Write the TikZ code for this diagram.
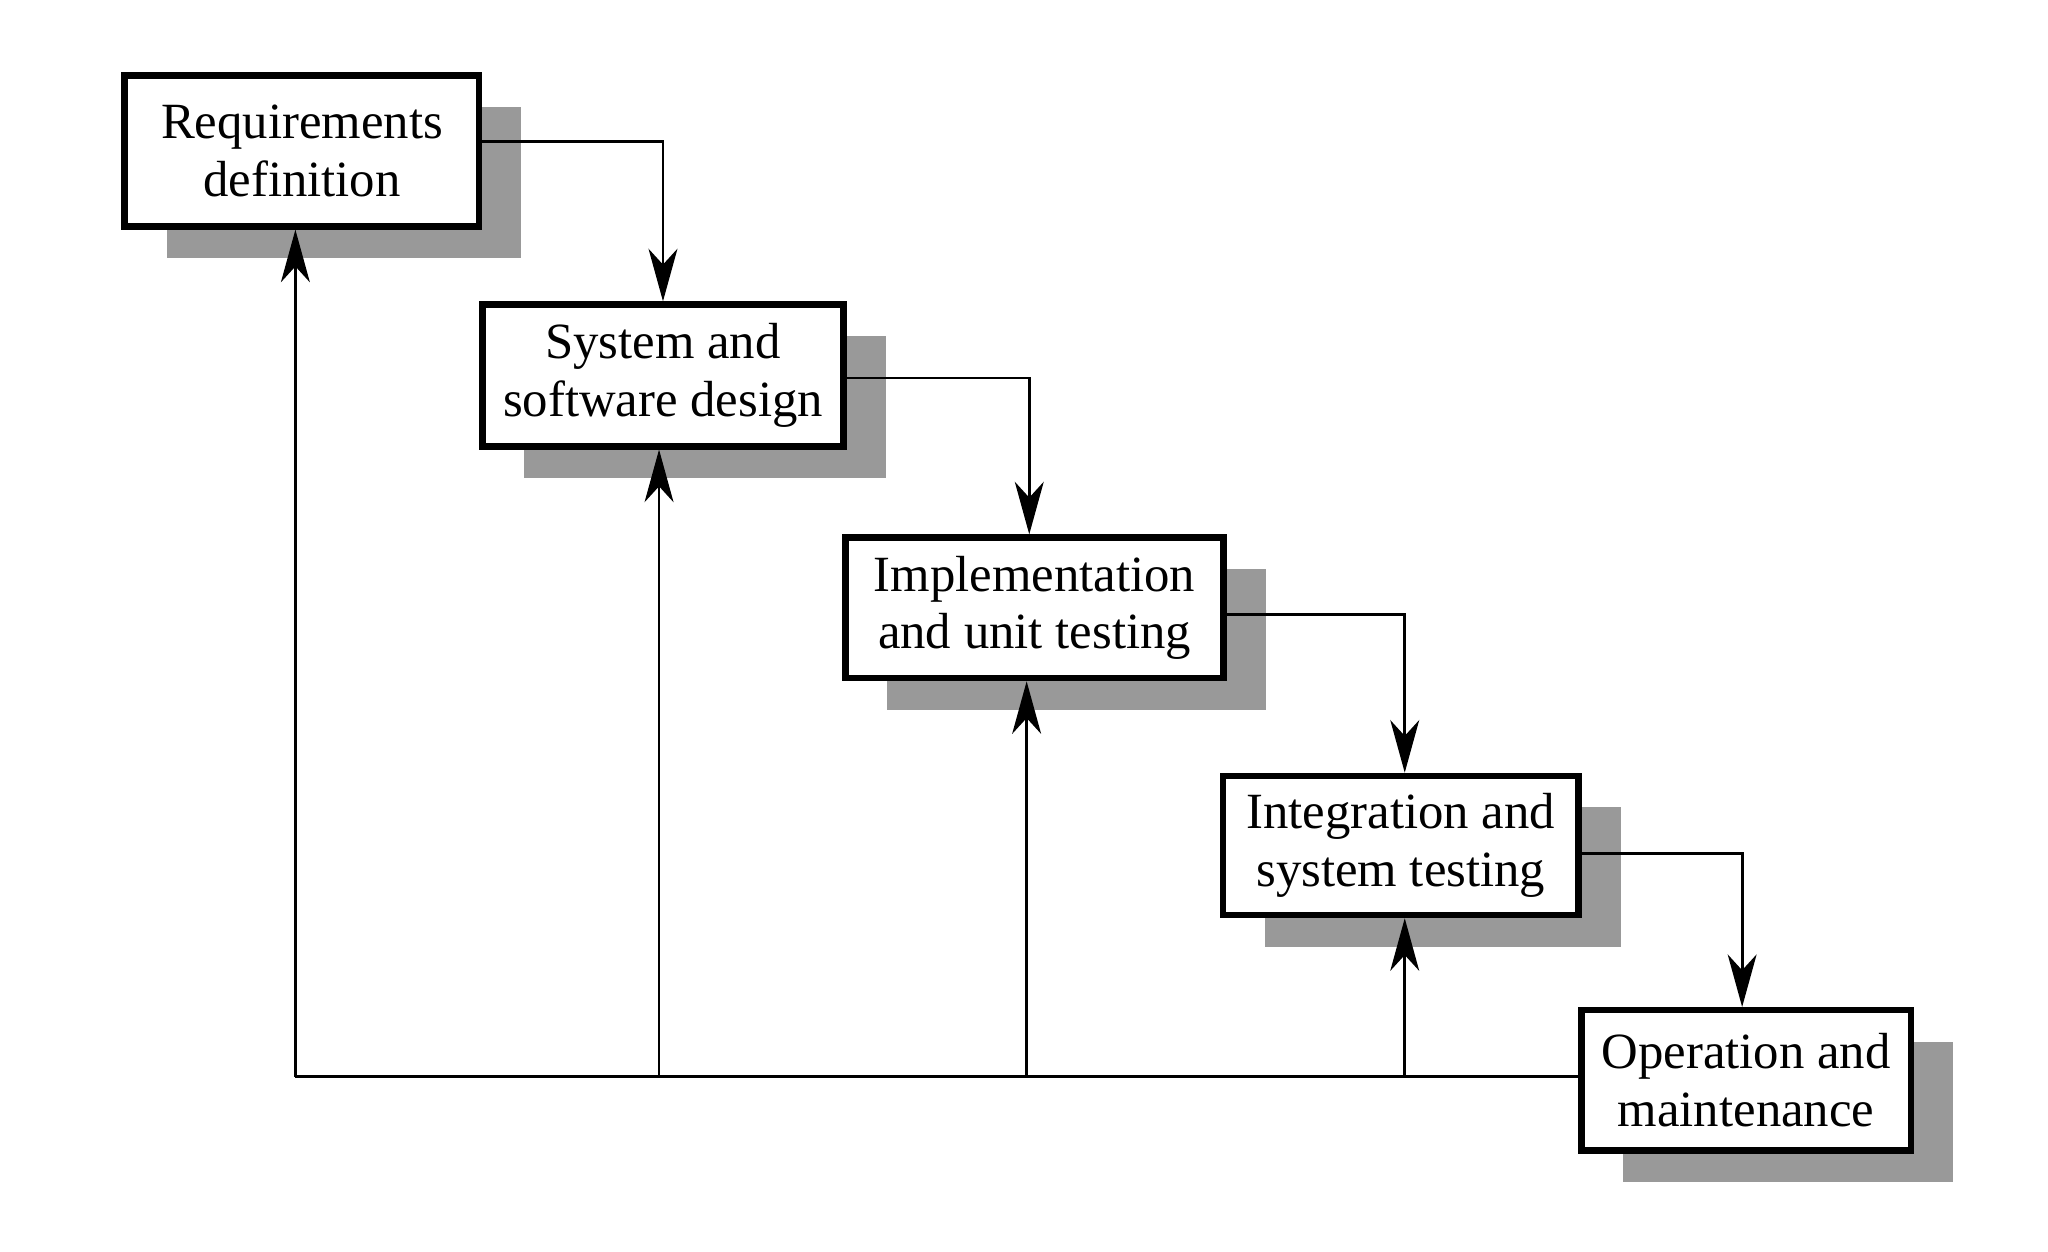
\documentclass[tikz,border=0pt]{standalone}
\usepackage{fontspec}
\setmainfont{Liberation Serif}
\usetikzlibrary{arrows.meta,shadows}
\tikzset{
  phase/.style={draw, line width=1.4pt, fill=white, align=center,
    font=\fontsize{11}{12.5}\selectfont, inner sep=0pt,
    drop shadow={shadow xshift=0.32cm, shadow yshift=-0.24cm, fill=black!40, opacity=1}},
  flow/.style={-{Stealth[length=4mm,width=2.2mm,inset=1.2mm]}, line width=0.6pt}
}
\begin{document}
\begin{tikzpicture}
\useasboundingbox (0,0) rectangle (15.6,9.53);
\node[phase, minimum width=2.7cm, minimum height=1.15cm] (req) at (2.30,8.38) {Requirements\\definition};
\node[phase, minimum width=2.75cm, minimum height=1.08cm] (sys) at (5.05,6.67) {System and\\software design};
\node[phase, minimum width=2.88cm, minimum height=1.07cm] (imp) at (7.88,4.90) {Implementation\\and unit testing};
\node[phase, minimum width=2.71cm, minimum height=1.06cm] (int) at (10.67,3.09) {Integration and\\system testing};
\node[phase, minimum width=2.51cm, minimum height=1.07cm] (ope) at (13.30,1.30) {Operation and\\maintenance};
% cascade down
\draw[flow] (req.east |- 0,8.45) -| (sys.north);
\draw[flow] (sys.east |- 0,6.65) -| (imp.north -| 7.84,0);
\draw[flow] (imp.east |- 0,4.85) -| (int.north -| 10.70,0);
\draw[flow] (int.east |- 0,3.03) -| (ope.north -| 13.27,0);
% feedback
\coordinate (base) at (2.25,1.33);
\draw[line width=0.6pt] (base) -- (ope.west |- base);
\draw[flow] (base) -- (req.south -| base);
\draw[flow] (base -| 5.02,0) -- (sys.south -| 5.02,0);
\draw[flow] (base -| 7.82,0) -- (imp.south -| 7.82,0);
\draw[flow] (base -| 10.70,0) -- (int.south -| 10.70,0);
\end{tikzpicture}
\end{document}
